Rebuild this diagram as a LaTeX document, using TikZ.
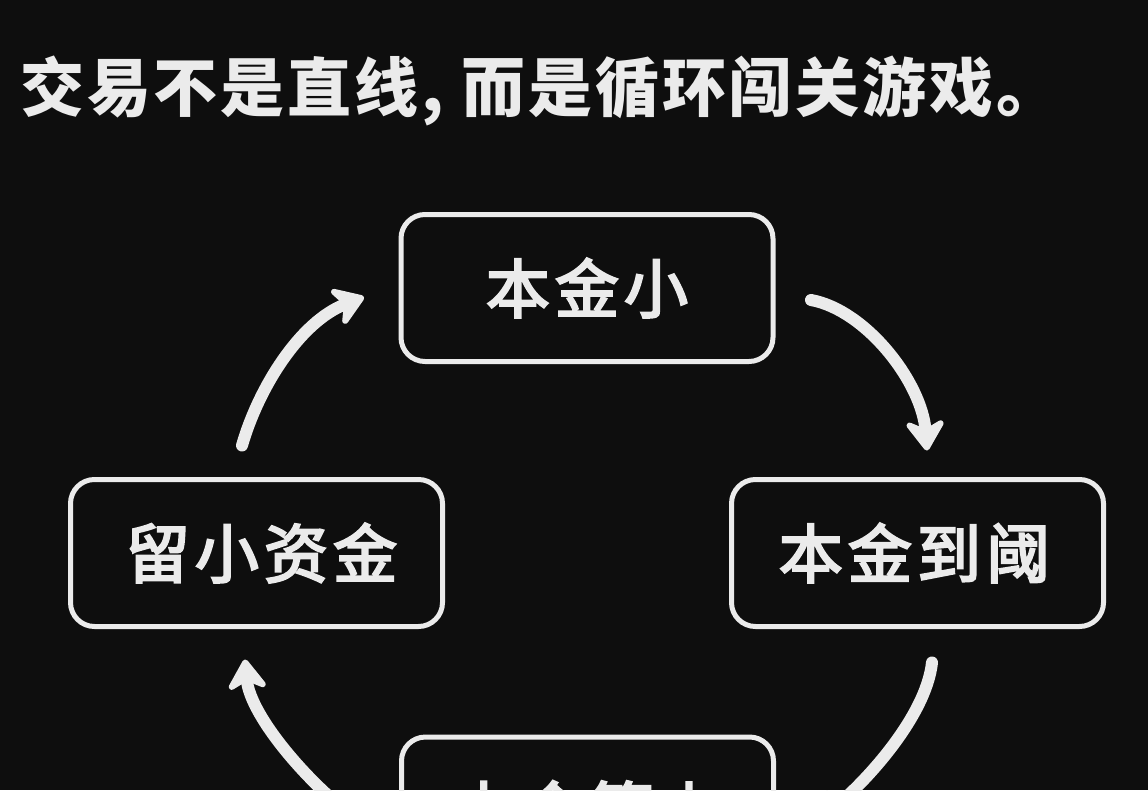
\documentclass[tikz,border=0pt]{standalone}
\usepackage{fontspec}
\newfontfamily\cjk[LetterSpace=4.5]{Noto Sans CJK SC}
\newfontfamily\cjkm[FakeBold=3.5,LetterSpace=8]{Noto Sans CJK SC}
\usetikzlibrary{arrows.meta,calc}
\definecolor{bg}{HTML}{0E0E0E}
\definecolor{fg}{HTML}{EBEBEB}
\begin{document}
\begin{tikzpicture}[x=1pt,y=-1pt,
  box/.style={draw=fg, line width=5pt, rounded corners=24pt, minimum width=372pt, minimum height=147pt, inner sep=0pt, text=fg, font=\cjkm\fontsize{64}{64}\selectfont},
  flow/.style={draw=fg, line width=12pt, line cap=round, -{Stealth[length=36pt,width=48pt,inset=12pt,round]}}]
\useasboundingbox (0,0) rectangle (1148,790);
\fill[bg] (0,0) rectangle (1148,790);
\clip (0,0) rectangle (1148,790);
\node[anchor=west, inner sep=0pt, text=fg, font=\cjk\bfseries\fontsize{64}{64}\selectfont] (title) at (20,91) {交易不是直线, 而是循环闯关游戏。};
\node[box] (T) at (587,288) {本金小};
\node[box] (L) at (256.5,553) {\hspace{10pt}留小资金};
\node[box] (R) at (917.5,553) {\hspace{-6pt}本金到阈};
\node[box] (B) at (587.5,810.5) {本金算上};
\draw[flow] ($(L.north)+(-14.5,-31.5)$) .. controls +(16,-56) and +(-65,25) .. ($(T.west)+(-34.5,9)$);
\draw[flow] ($(T.east)+(35.5,12)$) .. controls +(55,10) and +(-5,-68) .. ($(R.north)+(9.5,-26.5)$);
\draw[flow] ($(R.south)+(14.5,33.5)$) .. controls +(-6,55) and +(47,-37) .. ($(B.east)+(40,11.5)$);
\draw[flow] ($(B.west)+(-38,11.5)$) .. controls +(-47,-32) and +(5,58) .. ($(L.south)+(-11.5,30.5)$);
\end{tikzpicture}
\end{document}
